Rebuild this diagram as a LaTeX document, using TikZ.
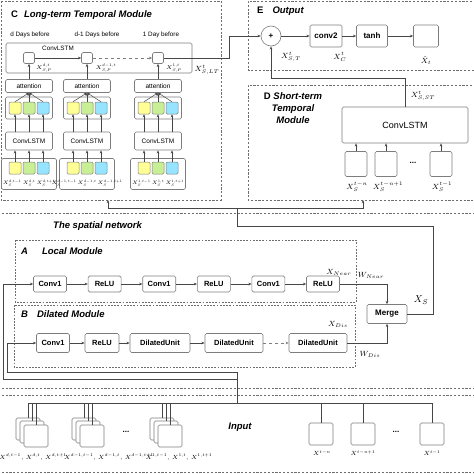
\RequirePackage{fix-cm}
\documentclass[tikz,border=0pt]{standalone}
\usepackage{fontspec}
\setsansfont{Liberation Sans}
\usepackage{amsmath}
\usepackage{xcolor}
\usepackage{tikz}
\usetikzlibrary{arrows.meta, positioning, calc}
\DeclareMathSizes{5}{5}{3.5}{2.5}
\DeclareMathSizes{5.5}{5.5}{3.85}{2.75}
\DeclareMathSizes{6}{6}{4.2}{3}
\DeclareMathSizes{7.5}{7.5}{5.25}{3.75}
\definecolor{wirecol}{RGB}{70,70,70}
\definecolor{edgecol}{RGB}{125,125,125}
\definecolor{dashcol}{RGB}{110,110,110}
\definecolor{cellyellow}{RGB}{255,255,150}
\definecolor{cellgreen}{RGB}{200,238,150}
\definecolor{cellcyan}{RGB}{150,228,255}

\begin{document}
\begin{tikzpicture}[
    x = 1pt, y = -1pt,
    modframe/.style  = {draw=dashcol, line width=0.6pt, dash pattern=on 2.2pt off 1.6pt},
    subframe/.style  = {draw=dashcol, line width=0.45pt, dash pattern=on 1.8pt off 1.4pt},
    block/.style     = {rectangle, rounded corners=1.5pt, draw=edgecol, fill=white,
                        line width=0.6pt, inner sep=1pt,
                        font=\sffamily\bfseries\fontsize{7.5}{8}\selectfont},
    lightbox/.style  = {block, font=\sffamily\fontsize{6.5}{8}\selectfont},
    localbox/.style  = {block, minimum width=33pt, minimum height=16pt},
    dilbox/.style    = {block, minimum height=19pt},
    cellgroup/.style = {rectangle, rounded corners=1.5pt, draw=edgecol, line width=0.6pt},
    cell/.style      = {rectangle, rounded corners=1.2pt, draw=edgecol, line width=0.5pt,
                        minimum width=12pt, minimum height=12pt, inner sep=0pt},
    tile/.style      = {rectangle, rounded corners=1.5pt, draw=edgecol, fill=white,
                        line width=0.6pt, inner sep=0pt},
    arrow/.style     = {-{Stealth[length=3.2pt, width=2.6pt]}, draw=wirecol, line width=0.5pt},
    link/.style      = {draw=wirecol, line width=0.5pt},
    heading/.style   = {font=\sffamily\bfseries\itshape\fontsize{9.5}{12}\selectfont, inner sep=0pt},
    note/.style      = {font=\sffamily\fontsize{6.3}{8}\selectfont, inner sep=0pt},
    sym/.style       = {font=\fontsize{7.5}{9}\selectfont, inner sep=0pt},
    mini/.style      = {font=\fontsize{5.5}{6}\selectfont, inner sep=0pt},
    inlab/.style     = {font=\fontsize{6}{7}\selectfont, inner sep=0pt},
    dots/.style      = {font=\sffamily\bfseries\fontsize{8}{8}\selectfont, inner sep=0pt},
]
\useasboundingbox (0,0) rectangle (474,474);

\draw[modframe] (1,1) rectangle (221,200);
\draw[modframe] (476,1) -- (248,1) -- (248,70) -- (476,70);
\draw[modframe] (476,85) -- (248,85) -- (248,200) -- (476,200);
\draw[modframe] (-2,213) -- (476,213);
\draw[modframe] (-2,388) -- (476,388);
\draw[modframe] (-2,395) -- (476,395);
\draw[modframe] (-2,472) -- (476,472);
\draw[subframe] (15,240) rectangle (356,302);
\draw[subframe] (14,305) rectangle (355,367);

\node[heading, anchor=west] (ctitle) at (11,15) {{\upshape C}\hspace{6pt}Long-term Temporal Module};
\node[note] (dday)   at (30,35)  {d Days before};
\node[note] (dmday)  at (97,35)  {d-1 Days before};
\node[note] (oneday) at (161,35) {1 Day before};
\node[tile, minimum width=186pt, minimum height=30pt] (ltlstm) at (99,58) {};
\node[note] (ltname) at (58,48) {ConvLSTM};

\foreach \i/\cx/\lab in {1/29/d, 2/87/d-1, 3/158/1}{
  \node[lightbox, minimum width=47pt, minimum height=13pt] (att\i) at (\cx,86) {attention};
  \node[cellgroup, minimum width=47pt, minimum height=22pt] (upf\i) at (\cx,108) {};
  \node[lightbox, minimum width=47pt, minimum height=18pt] (lstm\i) at (\cx,141) {ConvLSTM};
  \node[cellgroup, minimum width=55pt, minimum height=31pt] (inf\i) at (\cx,174) {};
  \node[tile, minimum width=11pt, minimum height=11pt] (h\i) at (\cx,58) {};
  \foreach \k/\dx/\col in {1/-14/cellyellow, 2/0/cellgreen, 3/14/cellcyan}{
    \node[cell, fill=\col] (up\i-\k) at ({\cx+\dx},108) {};
    \node[cell, fill=\col] (in\i-\k) at ({\cx+\dx},168) {};
    \draw[arrow] (in\i-\k.north) -- (in\i-\k.north |- lstm\i.south);
    \draw[arrow] (up\i-\k.south |- lstm\i.north) -- (up\i-\k.south);
    \draw[arrow] (up\i-\k.north) -- (att\i.south);
  }
  \draw[arrow] (att\i.north) -- (h\i.south);
  \node[mini, font=\fontsize{5}{6}\selectfont] (inl\i) at (\cx,183) {$X_S^{\lab,t-1}\,X_S^{\lab,t}\,X_S^{\lab,t+1}$};
}
\draw[arrow] (h1) -- (h2);
\draw[arrow, dashed, draw=edgecol] (h2) -- (h3);
\node[mini] (hl1) at (44,68)  {$X_{S,P}^{d,t}$};
\node[mini] (hl2) at (106,68) {$X_{S,P}^{d-1,t}$};
\node[mini] (hl3) at (174,68) {$X_{S,P}^{1,t}$};
\node[sym]  (ltout) at (207,70) {$X_{S,LT}^{t}$};

\node[heading, anchor=west] (etitle) at (257,11) {{\upshape E}\hspace{9pt}Output};
\node[circle, draw=edgecol, line width=0.6pt, minimum size=20pt, inner sep=0pt,
      font=\sffamily\bfseries\fontsize{8}{8}\selectfont] (plus) at (271,36) {+};
\node[block, minimum width=32pt, minimum height=22pt, font=\sffamily\bfseries\fontsize{8}{9}\selectfont] (conv2) at (326,36) {conv2};
\node[block, minimum width=31pt, minimum height=22pt, font=\sffamily\bfseries\fontsize{8}{9}\selectfont] (tanh) at (372,36) {tanh};
\node[tile, minimum width=25pt, minimum height=22pt] (yhat) at (426,36) {};
\draw[arrow] (plus) -- (conv2);
\draw[arrow] (conv2) -- (tanh);
\draw[arrow] (tanh) -- (yhat);
\node[sym] (stsum) at (291,57) {$X_{S,T}^{t}$};
\node[sym] (cout)  at (340,57) {$X_{C}^{t}$};
\node[sym] (yout)  at (426,60) {$\hat{X}_{t}$};

\coordinate (ltbend) at (229,36);
\draw[arrow] (h3.east) -| (ltbend) -- (plus.west);

\node[heading, align=center] (dtitle) at (293,108) {{\upshape D} Short-term\\Temporal\\Module};
\node[block, minimum width=126pt, minimum height=36pt, font=\sffamily\fontsize{9}{10}\selectfont] (stlstm) at (405,125) {ConvLSTM};
\node[tile, minimum width=22pt, minimum height=25pt] (st1) at (356,164) {};
\node[tile, minimum width=22pt, minimum height=25pt] (st2) at (386,164) {};
\node[tile, minimum width=22pt, minimum height=25pt] (st3) at (441,164) {};
\node[dots] (stdots) at (413,163) {...};
\foreach \k in {1,2,3} \draw[arrow] (st\k.north) -- (st\k.north |- stlstm.south);
\node[sym] (stl1) at (357,187) {$X_S^{t-n}$};
\node[sym] (stl2) at (388,187) {$X_S^{t-n+1}$};
\node[sym] (stl3) at (442,187) {$X_S^{t-1}$};
\coordinate (stout) at (405,78);
\draw[arrow] (stlstm.north) -- (stout) -| (plus.south);
\node[sym] (stlab) at (423,96) {$X_{S,ST}^{t}$};

\node[heading, anchor=west] (sptitle) at (53,226) {The spatial network};
\node[heading, anchor=west] (atitle)  at (21,251) {A\hspace{14pt}Local Module};
\node[heading, anchor=west] (btitle)  at (21,314) {B\hspace{9pt}Dilated Module};

\node[localbox] (lc1) at (50,284) {Conv1};
\node[localbox, right=21pt of lc1] (lr1) {ReLU};
\node[localbox, right=21pt of lr1] (lc2) {Conv1};
\node[localbox, right=21pt of lc2] (lr2) {ReLU};
\node[localbox, right=21pt of lr2] (lc3) {Conv1};
\node[localbox, right=21pt of lc3] (lr3) {ReLU};
\draw[arrow] (lc1) -- (lr1);
\draw[arrow] (lr1) -- (lc2);
\draw[arrow] (lc2) -- (lr2);
\draw[arrow] (lr2) -- (lc3);
\draw[arrow] (lc3) -- (lr3);

\node[dilbox, minimum width=33pt] (dc1) at (53,343)  {Conv1};
\node[dilbox, minimum width=34pt] (dr1) at (102,343) {ReLU};
\node[dilbox, minimum width=60pt] (du1) at (160,343) {DilatedUnit};
\node[dilbox, minimum width=58pt] (du2) at (234,343) {DilatedUnit};
\node[dilbox, minimum width=58pt] (du3) at (318,343) {DilatedUnit};
\draw[arrow] (dc1) -- (dr1);
\draw[arrow] (dr1) -- (du1);
\draw[arrow] (du1) -- (du2);
\draw[arrow, dashed, draw=edgecol] (du2) -- (du3);

\node[block, minimum width=40pt, minimum height=19pt, font=\sffamily\bfseries\fontsize{8}{9}\selectfont] (merge) at (387,314) {Merge};
\draw[arrow] (lr3.east) -| (merge.north);
\draw[arrow] (du3.east) -| (merge.south);
\node[sym] (xnear) at (339,272) {$X_{Near}$};
\node[sym] (wnear) at (371,275) {$W_{Near}$};
\node[sym] (xdis)  at (338,324) {$X_{Dis}$};
\node[sym] (wdis)  at (370,354) {$W_{Dis}$};
\node[sym, font=\fontsize{10}{12}\selectfont] (xs) at (421,300) {$X_S$};

\coordinate (loopE) at (433,226);
\coordinate (loopW) at (237,226);
\coordinate (fork)  at (237,208);
\coordinate (cin)   at (108,200);
\coordinate (din)   at (363,200);
\draw[link] (merge.east) -| (loopE) -- (loopW) -- (fork);
\draw[arrow] (fork) -| (cin);
\draw[arrow] (fork) -| (din);

\node[heading] (intitle) at (240,427) {Input};
\foreach \j/\b/\lx/\lab in {1/16/33/d, 2/72/109/d-1, 3/150/179/1}{
  \node[tile, minimum width=24pt, minimum height=22pt] (lt\j-1) at ({\b+12},429) {};
  \node[tile, minimum width=24pt, minimum height=22pt] (lt\j-2) at ({\b+16},432) {};
  \node[tile, minimum width=24pt, minimum height=22pt] (lt\j-3) at ({\b+20},436) {};
  \node[inlab] (ltl\j) at (\lx,457) {$X^{\lab,t-1},\,X^{\lab,t},\,X^{\lab,t+1}$};
}
\node[dots] (ltdots) at (126,432) {...};
\node[tile, minimum width=24pt, minimum height=22pt] (xs1) at (321,434) {};
\node[tile, minimum width=24pt, minimum height=22pt] (xs2) at (363,434) {};
\node[tile, minimum width=24pt, minimum height=22pt] (xs3) at (432,434) {};
\node[dots] (xsdots) at (396,432) {...};
\node[inlab] (xsl1) at (322,453) {$X^{t-n}$};
\node[inlab] (xsl2) at (363,453) {$X^{t-n+1}$};
\node[inlab] (xsl3) at (432,453) {$X^{t-1}$};

\coordinate (busW) at (28,403);
\coordinate (busE) at (432,403);
\draw[link] (busW) -- (busE);
\foreach \j in {1,2,3}{
  \foreach \k in {1,2,3} \draw[link] (lt\j-\k.north |- busW) -- (lt\j-\k.north);
}
\foreach \k in {1,2,3} \draw[link] (xs\k.north |- busE) -- (xs\k.north);

\coordinate (riser) at (237,372);
\coordinate (lowA)  at (3,379);
\coordinate (lowB)  at (7,372);
\draw[link] (riser |- busW) -- (riser);
\draw[arrow] (riser |- lowA) -- (lowA) |- (lc1.west);
\draw[arrow] (riser) -- (lowB) |- (dc1.west);
\end{tikzpicture}
\end{document}
